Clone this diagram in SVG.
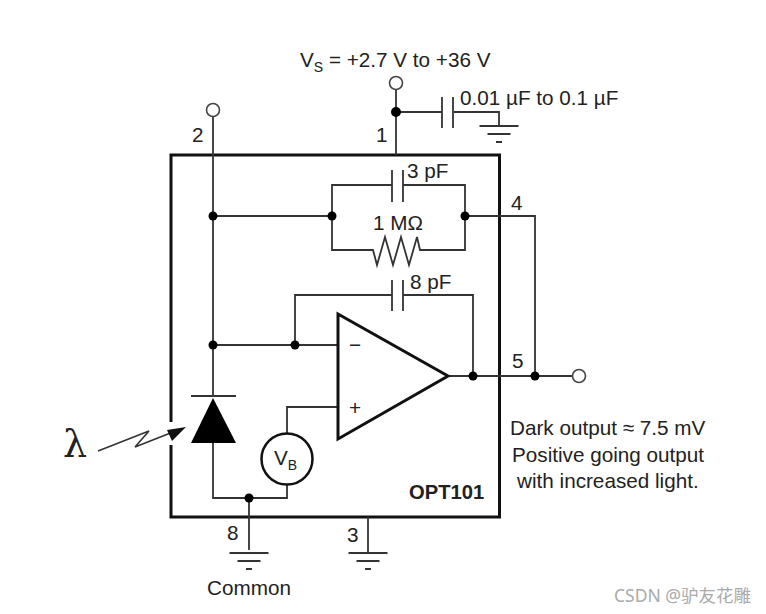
<svg xmlns="http://www.w3.org/2000/svg" width="766" height="614" viewBox="0 0 766 614">
<style>
text{font-family:"Liberation Sans",Arial,sans-serif;font-size:20.700px;fill:#222}
.w{fill:none;stroke:#333;stroke-width:1.8}
.b{fill:none;stroke:#111;stroke-width:3}
.d{fill:#000}
.o{fill:#fff;stroke:#444;stroke-width:1.6}
.g{fill:none;stroke:#333;stroke-width:1.8}
</style>
<defs>
<g id="gnd"><path class="g" d="M-19.500 0H19.500M-11.500 8H11.500M-3 16H3"/></g>
</defs>
<rect width="766" height="614" fill="#fff"/>
<g id="package"><path class="b" d="M171 422V155H499.500V517H171V445"/></g>
<g id="connectors">
<path class="w" d="M213 117V395M396 90V155M396 112H442M454 112H499V125"/>
<path class="w" d="M442 97V128M453 97V128"/>
<path class="w" d="M213 216H332M332 216V185H392M403 185H465V250H420L417 237L409 265L401 237L393 265L385 237L377 265L373 250H332V216"/>
<path class="w" d="M392 170V202M403 170V202"/>
<path class="w" d="M465 216H535V376M213 345H338M295 345V295H392M403 295H473V376"/>
<path class="w" d="M392 280V311M403 280V311"/>
<path class="w" d="M448 376H572"/>
<path class="w" d="M287 433V407H338"/>
<path class="w" d="M213 443V498H287V485M249 498V550"/>
<path class="w" d="M368 517V553"/>
<use href="#gnd" x="499" y="126"/>
<use href="#gnd" x="249" y="553"/>
<use href="#gnd" x="368" y="553"/>
<path d="M98 451L149 431L135 447L173 432" fill="none" stroke="#333" stroke-width="1.600"/>
<path d="M186 427L167 430L172 441Z" fill="#111"/>
</g>
<g id="opamp"><path d="M338 314L448 376L338 439Z" fill="#fff" stroke="#111" stroke-width="3"/>
<text x="349" y="352">−</text><text x="349" y="415">+</text></g>
<g id="diode"><path d="M191 443L213 398L236 443Z" fill="#000"/><path class="w" d="M191 396H236"/></g>
<g id="vb"><circle cx="287" cy="459" r="25.500" fill="#fff" stroke="#111" stroke-width="2.500"/>
<text x="274" y="465">V<tspan font-size="14" dy="5">B</tspan></text></g>
<g id="dots">
<circle class="d" cx="396" cy="112" r="5"/><circle class="d" cx="213" cy="216" r="4.500"/><circle class="d" cx="332" cy="216" r="4.500"/><circle class="d" cx="465" cy="216" r="4.500"/><circle class="d" cx="213" cy="345" r="4.500"/><circle class="d" cx="295" cy="345" r="4.500"/><circle class="d" cx="473" cy="376" r="4.500"/><circle class="d" cx="535" cy="376" r="4.500"/><circle class="d" cx="249" cy="498" r="4.500"/>
</g>
<g id="terminals"><circle class="o" cx="213" cy="110" r="6.500"/><circle class="o" cx="396" cy="83" r="6.500"/><circle class="o" cx="579" cy="376" r="6.500"/></g>
<g id="labels">
<text x="300" y="67">V<tspan font-size="14" dy="5">S</tspan><tspan dy="-5"> = +2.7 V to +36 V</tspan></text>
<text x="460" y="105">0.01 µF to 0.1 µF</text>
<text x="192" y="142">2</text><text x="376" y="142">1</text>
<text x="407" y="178">3 pF</text><text x="373" y="230">1 MΩ</text><text x="410" y="289">8 pF</text>
<text x="511" y="210">4</text><text x="512" y="368">5</text>
<text x="510" y="435">Dark output ≈ 7.5 mV</text>
<text x="512" y="462">Positive going output</text>
<text x="517" y="488">with increased light.</text>
<text x="409" y="499" style="font-weight:700;font-size:20.200px">OPT101</text>
<text x="227" y="540">8</text><text x="347" y="542">3</text>
<text x="207" y="595">Common</text>
<text x="63" y="457" style="font-family:'DejaVu Serif',serif;font-size:38px">λ</text>
<text x="614" y="602" style="font-family:'Noto Sans','Noto Sans CJK SC',sans-serif;font-size:17.500px;fill:#aaa">CSDN @驴友花雕</text>
</g>
</svg>
